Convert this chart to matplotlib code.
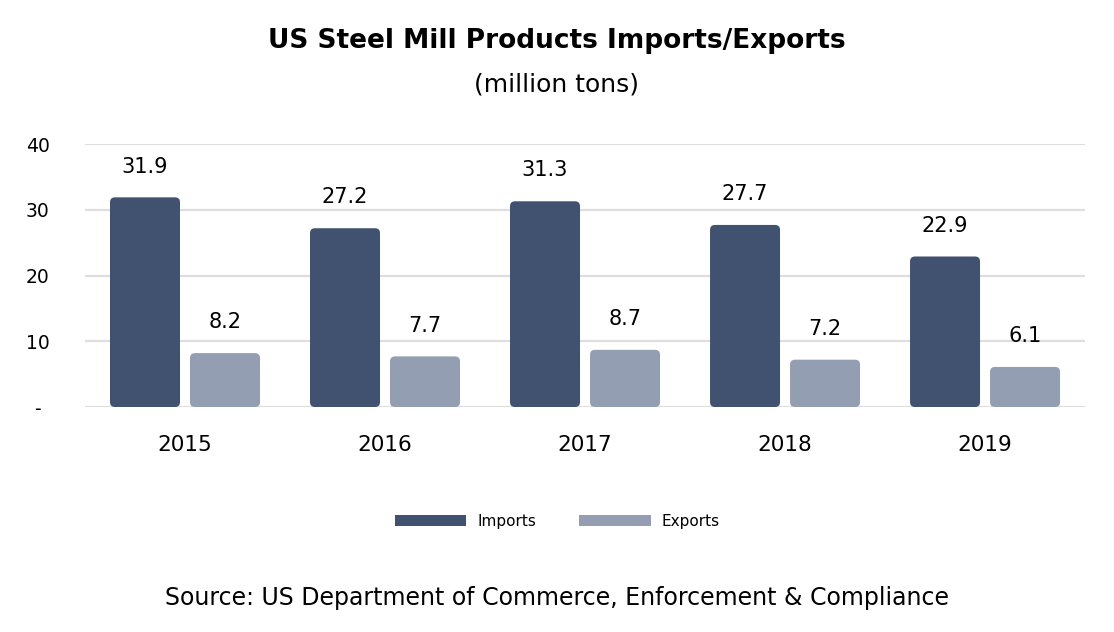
import numpy as np
import matplotlib
matplotlib.use("Agg")
import matplotlib.pyplot as plt
from matplotlib.patches import FancyBboxPatch, Patch

plt.rcParams['font.family'] = ['DejaVu Sans']

# data
years = ['2015', '2016', '2017', '2018', '2019']
imports = [31.9, 27.2, 31.3, 27.7, 22.9]
exports = [8.2, 7.7, 8.7, 7.2, 6.1]
yticks = [0, 10, 20, 30, 40]
ytick_labels = ['-', '10', '20', '30', '40']

c_imp = '#415170'
c_exp = '#939eb2'

fig = plt.figure(figsize=(11.14, 6.32), dpi=100)
ax = fig.add_axes([0.0763, 0.356, 0.8977, 0.416])

x = np.arange(len(years))
w = 0.35
off = 0.2

def rounded_bars(bars, color):
    # swap the plain rectangles for rounded ones at the same place
    for b in bars:
        bx, by = b.get_x(), b.get_y()
        bw, bh = b.get_width(), b.get_height()
        b.set_visible(False)
        p = FancyBboxPatch((bx, by), bw, bh,
                           boxstyle='round,pad=0,rounding_size=0.025',
                           mutation_aspect=30, fc=color, ec='none', zorder=3)
        ax.add_patch(p)

b1 = ax.bar(x - off, imports, w, color=c_imp, zorder=3)
b2 = ax.bar(x + off, exports, w, color=c_exp, zorder=3)
rounded_bars(b1, c_imp)
rounded_bars(b2, c_exp)

for xi, v in zip(x, imports):
    ax.annotate(f'{v:.1f}', (xi - off, v), xytext=(0, 15), textcoords='offset points',
                ha='center', va='bottom', fontsize=15)
for xi, v in zip(x, exports):
    ax.annotate(f'{v:.1f}', (xi + off, v), xytext=(0, 15), textcoords='offset points',
                ha='center', va='bottom', fontsize=15)

ax.set_xlim(-0.5, 4.5)
ax.set_ylim(0, 40)
ax.set_yticks(yticks)
ax.set_yticklabels(ytick_labels, fontsize=13.5)
ax.set_xticks(x)
ax.set_xticklabels(years, fontsize=15.5)
ax.tick_params(axis='both', length=0)
ax.tick_params(axis='x', pad=20)
ax.tick_params(axis='y', pad=34)
for t in ax.get_yticklabels():
    t.set_horizontalalignment('center')
ax.grid(axis='y', color='#dedede', linewidth=1.6, zorder=0)
ax.set_axisbelow(True)
for s in ax.spines.values():
    s.set_visible(False)

fig.text(0.5, 0.935, 'US Steel Mill Products Imports/Exports', ha='center', va='center',
         fontsize=19, fontweight='bold')
fig.text(0.5, 0.866, '(million tons)', ha='center', va='center', fontsize=18)

handles = [Patch(fc=c_imp, ec='none'), Patch(fc=c_exp, ec='none')]
fig.legend(handles, ['Imports', 'Exports'], loc='center', bbox_to_anchor=(0.5, 0.175),
           ncol=2, frameon=False, fontsize=11, handlelength=4.7, handleheight=0.7,
           handletextpad=0.7, columnspacing=2.8)

fig.text(0.5, 0.054, 'Source: US Department of Commerce, Enforcement & Compliance',
         ha='center', va='center', fontsize=17)

fig.savefig('out.png', dpi=100)
